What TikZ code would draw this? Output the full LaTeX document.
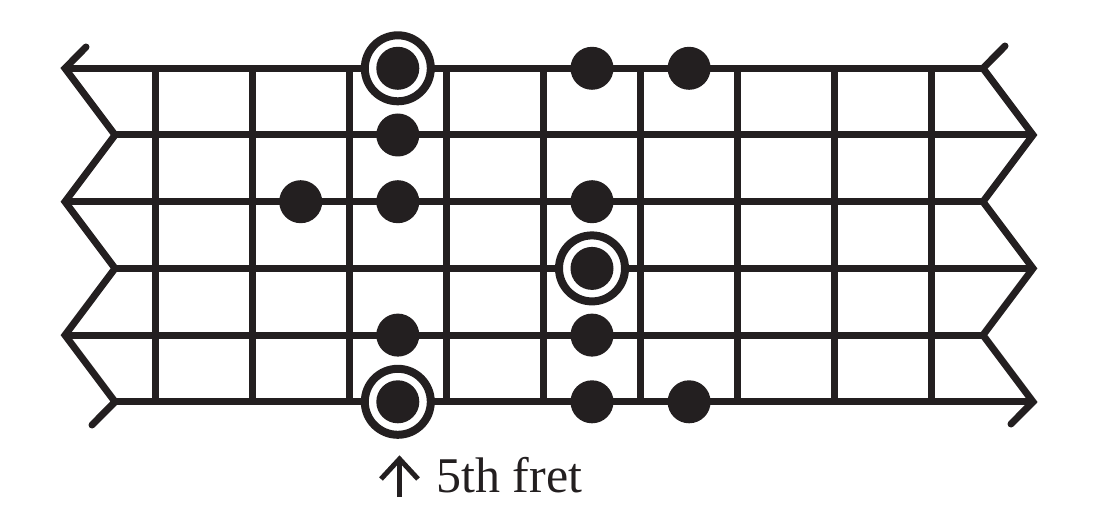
\documentclass[tikz,border=0pt]{standalone}
\usepackage{fontspec}
\setmainfont{Liberation Serif}
\usepackage{tikz}

\definecolor{ink}{HTML}{231F20}

\begin{document}
\begin{tikzpicture}[x=1pt,y=-1pt,line width=7pt,draw=ink,
  note/.style={circle,fill=ink,inner sep=0pt,minimum size=43pt},
  root/.style={circle,draw=ink,fill=white,line width=8pt,inner sep=0pt,minimum size=66pt}]
  \useasboundingbox (0,0) rectangle (1106,516);

  % string ends, zigzag at both sides
  \foreach \s/\xl in {1/65,2/115,3/65,4/115,5/65,6/115} {
    \coordinate (l\s) at (\xl,{1.6+66.7*\s});
    \coordinate (r\s) at ({\xl+918},{1.6+66.7*\s});
  }
  \coordinate (lt) at (86,47);
  \coordinate (lb) at (92,425);
  \coordinate (rt) at (1005,46);
  \coordinate (rb) at (1011,424);

  % strings
  \foreach \s in {1,...,6}
    \draw (l\s) -- (r\s);

  % frets
  \foreach \f in {0,...,8}
    \draw ({155+97.1*\f},68.3) -- ({155+97.1*\f},401.7);

  \draw[line join=miter,line cap=round] (lt) -- (l1) -- (l2) -- (l3) -- (l4) -- (l5) -- (l6) -- (lb);
  \draw[line join=miter,line cap=round] (rt) -- (r1) -- (r2) -- (r3) -- (r4) -- (r5) -- (r6) -- (rb);

  % root notes
  \foreach \s/\f in {1/3,4/5,6/3}
    \node[root] (r\s\f) at ({106.5+97.1*\f},{1.6+66.7*\s}) {};

  % scale notes
  \foreach \s/\f in {1/3,1/5,1/6,2/3,3/2,3/3,3/5,4/5,5/3,5/5,6/3,6/5,6/6}
    \node[note] (n\s\f) at ({106.5+97.1*\f},{1.6+66.7*\s}) {};

  % arrow to the 5th fret
  \coordinate (tip) at (399.5,459);
  \coordinate (tail) at (399.5,497);
  \coordinate (barbl) at (381,479);
  \coordinate (barbr) at (418,479);
  \draw[line width=5pt] (tail) -- (tip);
  \draw[line width=5pt,line join=miter] (barbl) -- (tip) -- (barbr);

  \node[anchor=base west,text=ink,inner sep=0pt,font=\fontsize{50}{54}\selectfont] (fret) at (433,492) {5th fret};

\end{tikzpicture}
\end{document}
